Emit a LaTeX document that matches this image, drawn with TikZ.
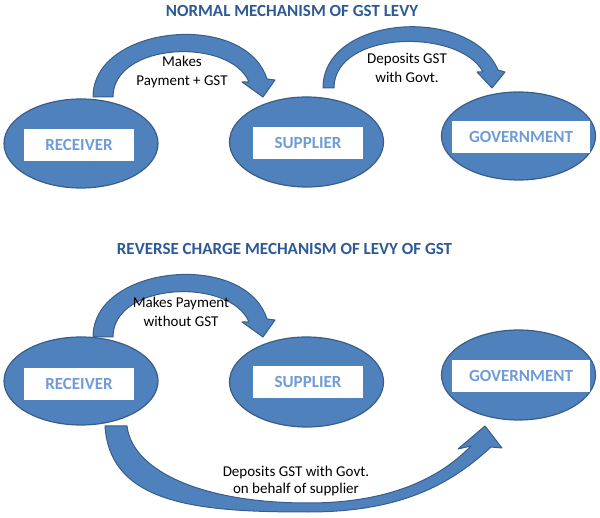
\documentclass[tikz,border=0pt]{standalone}
\usepackage{fontspec}
\setmainfont{Carlito}
\usetikzlibrary{shapes.geometric}
\definecolor{gstblue}{HTML}{4F81BD}
\definecolor{gstedge}{HTML}{385D8A}
\definecolor{gsttitle}{HTML}{2D5996}
\definecolor{gstlabel}{HTML}{6F9CD8}
\tikzset{party/.style={ellipse, draw=gstedge, fill=gstblue, line width=1.2pt, minimum width=154pt, minimum height=89pt, inner sep=0pt}}
\tikzset{namebox/.style={rectangle, fill=white, minimum height=32pt, inner sep=0pt, text=gstlabel, font=\fontsize{17}{17}\selectfont\bfseries}}
\tikzset{heading/.style={text=gsttitle, font=\fontsize{17}{17}\selectfont\bfseries}}
\tikzset{blockarrow/.style={draw=gstedge, fill=gstblue, line width=1pt, line join=round}}
\tikzset{note/.style={align=center, font=\fontsize{15}{19}\selectfont}}

\begin{document}
\begin{tikzpicture}[x=1pt, y=-1pt]
    \useasboundingbox (0,0) rectangle (600,518);
    % normal mechanism
    \node[heading] (normaltitle) at (292,11) {NORMAL MECHANISM OF GST LEVY};
    \node[party] (rec1) at (81,143.5) {};
    \node[party, minimum height=90pt] (sup1) at (306.5,142) {};
    \node[party, minimum height=88pt] (gov1) at (518.5,136) {};
    \draw[blockarrow] (93,97) .. controls (93,25) and (245,10) .. (267,79) -- (275,80) -- (263,97) -- (242,82) -- (249,82)
        .. controls (230,37) and (113,42) .. (113,97) -- cycle;
    \draw[blockarrow] (323,88) .. controls (323,15) and (470,5) .. (498,70) -- (505,72) -- (492,88) -- (477,72) -- (483,72)
        .. controls (460,28) and (334,30) .. (334,88) -- cycle;
    \node[namebox, minimum width=110pt] (rec1box) at (79,145) {RECEIVER};
    \node[namebox, minimum width=110pt] (sup1box) at (308,143) {SUPPLIER};
    \node[namebox, minimum width=138pt] (gov1box) at (521,137) {GOVERNMENT};
    \node[note] (pay1) at (182,72.5) {Makes\\Payment + GST};
    \node[note] (dep1) at (407,68) {Deposits GST\\with Govt.};
    % reverse charge mechanism
    \node[heading] (reversetitle) at (284.5,249) {REVERSE CHARGE MECHANISM OF LEVY OF GST};
    \node[party, minimum height=88pt] (rec2) at (81,381) {};
    \node[party, minimum height=90pt] (sup2) at (306.5,382) {};
    \node[party, minimum height=90pt] (gov2) at (518.5,375) {};
    \draw[blockarrow] (93,337) .. controls (93,265) and (245,250) .. (267,319) -- (275,320) -- (263,337) -- (242,322) -- (249,322)
        .. controls (230,277) and (113,282) .. (113,337) -- cycle;
    \draw[blockarrow] (105,426) .. controls (110,505) and (200,512) .. (308,512) .. controls (400,512) and (450,485) .. (491,447)
        -- (502,448) -- (485,426) -- (458,449) -- (471,446)
        .. controls (440,478) and (390,503) .. (308,503) .. controls (200,503) and (132,470) .. (127,426) -- cycle;
    \node[namebox, minimum width=110pt] (rec2box) at (79,384) {RECEIVER};
    \node[namebox, minimum width=110pt] (sup2box) at (308,382) {SUPPLIER};
    \node[namebox, minimum width=138pt] (gov2box) at (521,376) {GOVERNMENT};
    \node[note] (pay2) at (181,311.5) {Makes Payment\\without GST};
    \node[note, font=\fontsize{15}{17}\selectfont] (dep2) at (296,481.5) {Deposits GST with Govt.\\on behalf of supplier};
\end{tikzpicture}
\end{document}
